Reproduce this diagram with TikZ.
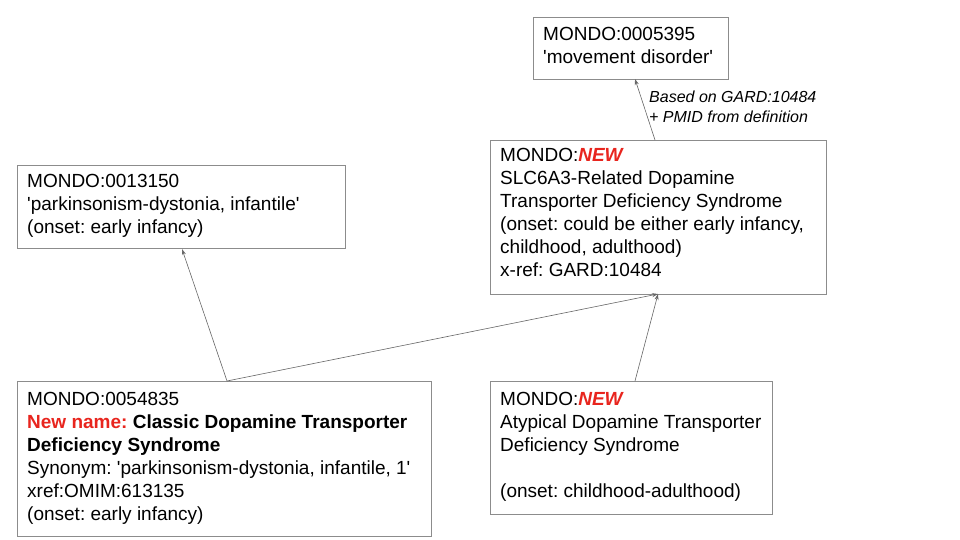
\documentclass[tikz,border=0pt]{standalone}
\usepackage{fontspec}
\setmainfont{Liberation Sans}
\usetikzlibrary{arrows.meta}
\definecolor{nred}{HTML}{E8251E}
\newcommand\sq{\textquotesingle}
\frenchspacing
\begin{document}
\begin{tikzpicture}[x=1pt,y=-1pt,
  boxstyle/.style={draw=black!45,line width=0.7pt,inner sep=0pt,rectangle},
  txt/.style={anchor=north west,inner sep=0pt,align=left,font=\fontsize{19}{23}\selectfont},
  conn/.style={draw=black!60,line width=0.6pt,-{Stealth[length=6pt,width=4pt]}}]
\useasboundingbox (0,0) rectangle (960,540);
\node[boxstyle,minimum width=195pt,minimum height=62pt] (top) at (630.5,48) {};
\node[boxstyle,minimum width=328pt,minimum height=83pt] (lm) at (181,206.5) {};
\node[boxstyle,minimum width=336pt,minimum height=154pt] (rm) at (658,217) {};
\node[boxstyle,minimum width=414pt,minimum height=155pt] (bl) at (224,458.5) {};
\node[boxstyle,minimum width=282pt,minimum height=133pt] (br) at (631,447.5) {};
\node[txt] (tt) at (543,27) {MONDO:0005395\\\sq movement disorder\sq};
\node[txt] (lmt) at (27,174) {MONDO:0013150\\\sq parkinsonism-dystonia, infantile\sq\\(onset: early infancy)};
\node[txt] (rmt) at (500,148) {MONDO:\textcolor{nred}{\textbf{\textit{NEW}}}\\SLC6A3-Related Dopamine\\Transporter Deficiency Syndrome\\(onset: could be either early infancy,\\childhood, adulthood)\\x-ref: GARD:10484};
\node[txt] (blt) at (27,392) {MONDO:0054835\\\textcolor{nred}{\textbf{New name:}} \textbf{Classic Dopamine Transporter}\\\textbf{Deficiency Syndrome}\\Synonym: \sq parkinsonism-dystonia, infantile, 1\sq\\xref:OMIM:613135\\(onset: early infancy)};
\node[txt] (brt) at (500,392) {MONDO:\textcolor{nred}{\textbf{\textit{NEW}}}\\Atypical Dopamine Transporter\\Deficiency Syndrome\\\strut\\(onset: childhood-adulthood)};
\node[anchor=north west,inner sep=0pt,align=left,font=\fontsize{16}{19.5}\selectfont\itshape] (lab) at (649,91) {Based on GARD:10484\\+ PMID from definition};
\coordinate (blc) at (227,381);
\coordinate (rmb) at (658,294);
\draw[conn] (blc) -- (182,249);
\draw[conn] (blc) -- (rmb);
\draw[conn] (635,381) -- (rmb);
\draw[conn] (655,140) -- (635,79);
\end{tikzpicture}
\end{document}
